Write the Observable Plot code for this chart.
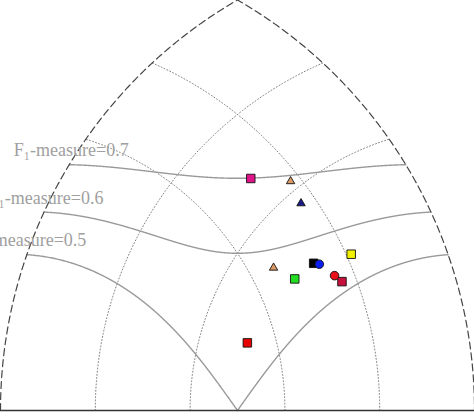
<!DOCTYPE html>
<html>
<head>
<meta charset="utf-8">
<script src="https://cdn.jsdelivr.net/npm/d3@7"></script>
<script src="https://cdn.jsdelivr.net/npm/@observablehq/plot@0.6"></script>
<style>
  html, body { margin: 0; padding: 0; background: #fff; }
</style>
</head>
<body>
<div id="chart"></div>
<script>
// ---- data ----
const methods   = ["M1", "M2", "M3", "M4", "M5", "M6", "M7", "M8", "M9", "M10", "M11"];
const precision = [0.54, 0.77, 0.76, 0.68, 0.65, 0.73, 0.74, 0.81, 0.77, 0.78, 0.72];
const recall    = [0.50, 0.39, 0.41, 0.47, 0.52, 0.46, 0.45, 0.42, 0.57, 0.62, 0.68];
const f1Levels  = [0.5, 0.6, 0.7];
const gridLevels = [0.6, 0.8];

// ---- styles (per method) ----
const methodColors  = ["#e80000", "#c8103c", "#e8101a", "#22dd22", "#d99a66", "#000000", "#0a1ef0", "#f2f200", "#1a1a8a", "#d99a66", "#e0148a"];
const methodSymbols = ["square", "square", "circle", "square", "triangle", "square", "circle", "square", "triangle", "triangle", "square"];
const symbolRadius  = {square: 4.8, circle: 4.3, triangle: 3.1};

// geometry: a point sits at distance precision from the left corner and recall from the right corner
function toXY(a, b) {
  const x = (a * a - b * b + 1) / 2;
  const y = Math.sqrt(Math.max(0, a * a - x * x));
  return [x, y];
}

const points = methods.map((m, i) => {
  const [x, y] = toXY(precision[i], recall[i]);
  return {method: m, sym: methodSymbols[i], x, y};
});

// F1 iso-curves
const f1Curves = [];
for (const f of f1Levels) {
  const lo = f / (2 - f);
  const n = 2000;
  for (let i = 0; i <= n; i++) {
    const a = lo + (1 - lo) * i / n;
    const b = Math.min(1, f * a / (2 * a - f));
    const [x, y] = toXY(a, b);
    f1Curves.push({f, x, y});
  }
}
const f1Labels = f1Levels.map(f => {
  const lo = f / (2 - f);
  const [x, y] = toXY(lo, 1);
  return {f, x, y, text: `F\u2081-measure=${f.toFixed(1)}`};
});

// outer boundary (radius 1 arcs)
const boundary = [];
const N = 300;
for (let i = 0; i <= N; i++) {
  const t = (Math.PI / 3) * i / N;
  boundary.push({x: 1 - Math.cos(t), y: Math.sin(t)});
}
for (let i = N; i >= 0; i--) {
  const t = (Math.PI / 3) * i / N;
  boundary.push({x: Math.cos(t), y: Math.sin(t)});
}

// dotted grid arcs
const grid = [];
for (const r of gridLevels) {
  const tmax = Math.acos(r / 2);
  for (let i = 0; i <= N; i++) {
    const t = tmax * i / N;
    grid.push({k: "L" + r, x: r * Math.cos(t), y: r * Math.sin(t)});
  }
  for (let i = 0; i <= N; i++) {
    const t = tmax * i / N;
    grid.push({k: "R" + r, x: 1 - r * Math.cos(t), y: r * Math.sin(t)});
  }
}

const W = 474, H = 416, BASE = 410;

const dotMarks = ["square", "triangle", "circle"].map(s =>
  Plot.dot(points.filter(p => p.sym === s), {
    x: "x", y: "y", fill: "method", symbol: "method",
    stroke: "#111", strokeWidth: 0.9, r: symbolRadius[s]
  })
);

const chart = Plot.plot({
  width: W,
  height: H,
  margin: 0,
  style: {background: "#fff"},
  x: {domain: [0, 1], range: [0, W], axis: null},
  y: {domain: [0, 1], range: [BASE, BASE - W], axis: null},
  color: {domain: methods, range: methodColors},
  symbol: {domain: methods, range: methodSymbols},
  marks: [
    Plot.line(grid, {x: "x", y: "y", z: "k", stroke: "#808080", strokeWidth: 1, strokeDasharray: "1,2.2"}),
    Plot.line(f1Curves, {x: "x", y: "y", z: "f", stroke: "#9a9a9a", strokeWidth: 1.4}),
    Plot.line(boundary, {x: "x", y: "y", stroke: "#444", strokeWidth: 1.2, strokeDasharray: "7,4"}),
    Plot.ruleY([0], {stroke: "#333", strokeWidth: 1.5}),
    Plot.text(f1Labels, {x: "x", y: "y", text: "text", dx: 2, dy: -14, fontFamily: "Liberation Serif, Times New Roman, serif", fontSize: 18, fill: "#a0a0a0"}),
    ...dotMarks
  ]
});
document.getElementById("chart").appendChild(chart);
</script>
</body>
</html>
